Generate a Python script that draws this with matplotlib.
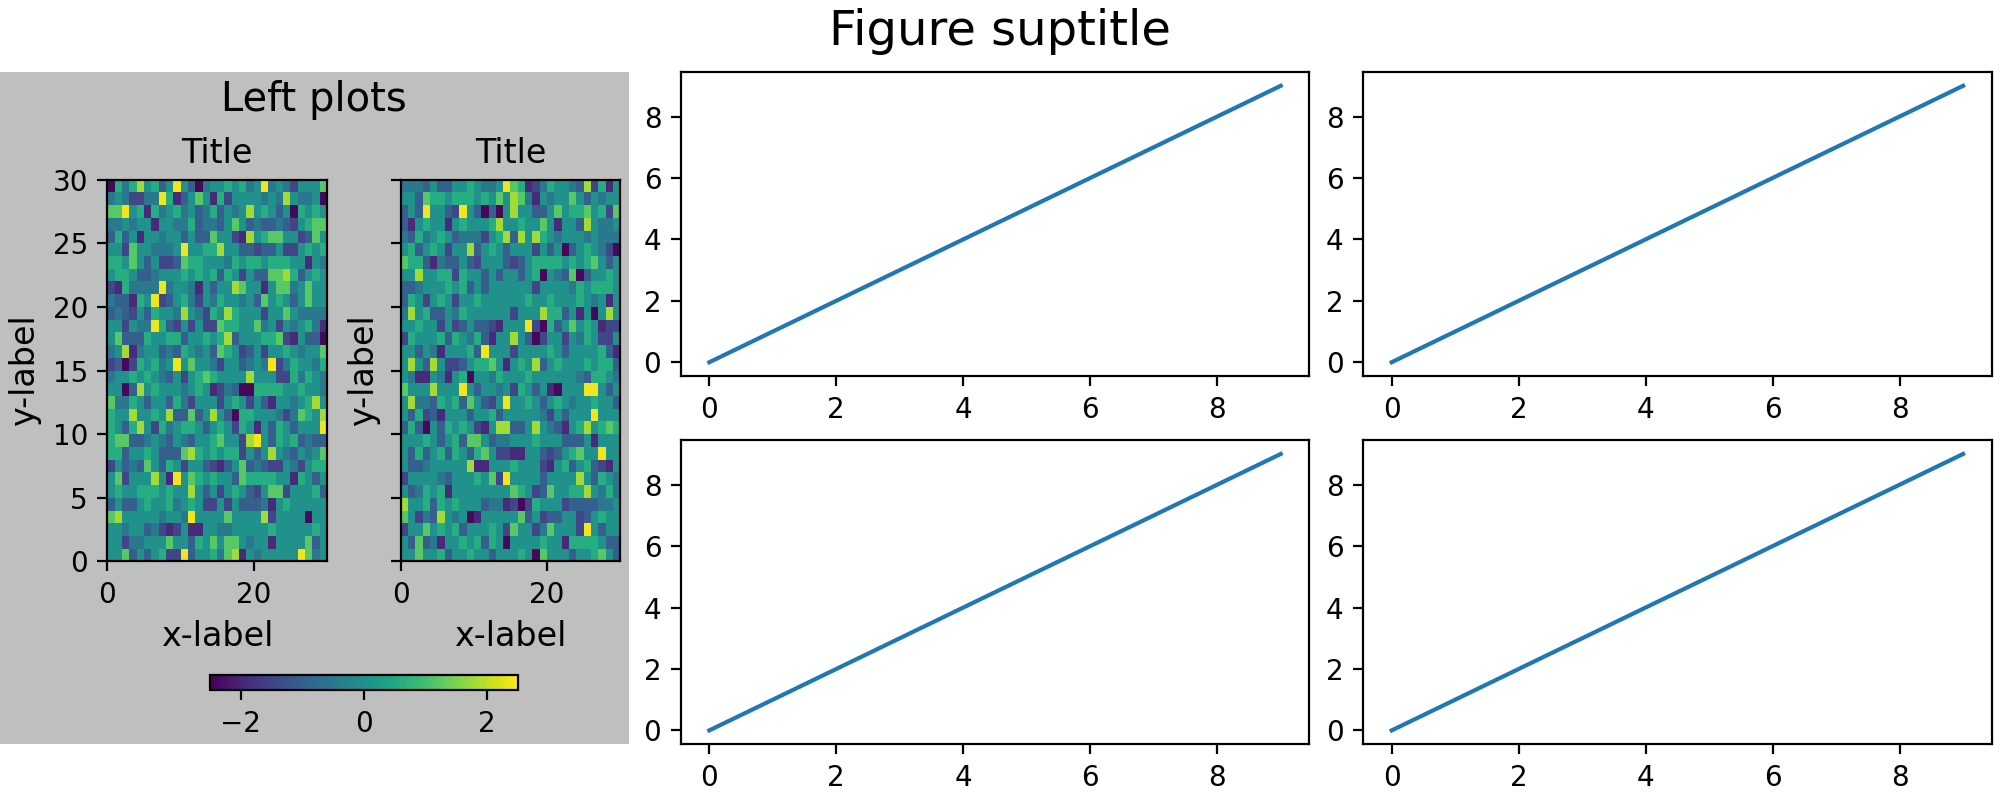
import numpy as np
import matplotlib
matplotlib.use("Agg")
import matplotlib.pyplot as plt

# Colour levels (code digit -> value)
LEVELS = [-2.4, -1.9, -1.45, -1.0, -0.5, 0.0, 0.6, 1.2, 1.8, 2.4]

# Left heatmap, rows listed top (y=29) to bottom (y=0), 30 columns each
heat_left_rows = [
    "0646856359 5304556564 5945425557",
    "4542244961 3575162555 5454854450",
    "7795616456 4534635458 5653506565",
    "4454551554 4634435753 4334325677",
    "3635155455 3533755218 5677552375",
    "5527554445 9556685533 2335225656",
    "6657535223 7665554656 6566655154",
    "5665334555 6565636525 3377863565",
    "2164444945 5415355875 5157745755",
    "4331659235 6425465545 3756535755",
    "3432536554 8542658655 5255754444",
    "5525449632 5252276655 7452545641",
    "5733365566 3556568355 5667215330",
    "4581455343 6545376523 5255654557",
    "2302656459 5755425534 5492465546",
    "4556565435 2567655558 5552264654",
    "5503856555 4565124300 6666556554",
    "7446535536 4255525652 5315545685",
    "6558556583 3735853066 5554247658",
    "6536852645 6653565265 1536535559",
    "6773345435 4355675528 9536563433",
    "6635565333 7865656625 3585435457",
    "2534375365 2553213573 4322542566",
    "5725558519 5765655376 6665516535",
    "5655666565 5853525653 2577255563",
    "3533565564 5652252533 3415655555",
    "7855555455 4955557555 5825555055",
    "5545534212 5115544555 5565555565",
    "5524455575 5365757754 5515555735",
    "5573535622 9355647815 4555559745",
]

# Right heatmap, rows listed top (y=29) to bottom (y=0)
heat_right_rows = [
    "4443533556 5445976124 6554382615",
    "5537665666 5657587415 4557535455",
    "3539553295 3030585533 5756675627",
    "3156551565 5568556557 5155385445",
    "4364565344 4256838586 5455545444",
    "5635652558 3565355525 3503565420",
    "7663143353 2555323566 6656567535",
    "5585566265 5353553560 5437035565",
    "3345556563 5355555525 5554656665",
    "3652565255 6555555655 6555654515",
    "4856335465 5555525558 6635150585",
    "5565525235 3321555920 6357565122",
    "2655563654 6315585302 5525465225",
    "5535415556 3955525555 6535555631",
    "5853852235 6675156583 5655565663",
    "5411541560 5546555655 5555436654",
    "7555855595 3554526535 1055599535",
    "5844365637 5325955653 5654556553",
    "5362315553 5563555554 2535559555",
    "3630536565 2158833585 4315685676",
    "5556535637 7534455565 5533351555",
    "5363563653 6752211553 2356755955",
    "5334555558 1155565552 1563563215",
    "2555543555 6572955553 5555853654",
    "5346561555 5555576523 7556685464",
    "8556365655 5344120265 5523333445",
    "7524385450 1555557352 3355235655",
    "2557565635 5565275524 7555295355",
    "5373415565 6365055556 5516666533",
    "5575563556 5535556507 5553556753",
]

line_x = [0, 1, 2, 3, 4, 5, 6, 7, 8, 9]
line_y = [0, 1, 2, 3, 4, 5, 6, 7, 8, 9]


def decode(rows):
    arr = np.array([[LEVELS[int(c)] for c in r.replace(" ", "")] for r in rows])
    return arr[::-1]  # first row of the grid is y=0


def example_plot(ax, data, fontsize=12):
    pc = ax.pcolormesh(data, vmin=-2.5, vmax=2.5)
    ax.set_xlabel('x-label', fontsize=fontsize)
    ax.set_ylabel('y-label', fontsize=fontsize)
    ax.set_title('Title', fontsize=fontsize)
    return pc


fig, axs = plt.subplots(2, 3, layout='constrained', figsize=(10, 4))
gridspec = axs[0, 0].get_subplotspec().get_gridspec()

for a in axs[:, 0]:
    a.remove()

for a in axs[:, 1:].flat:
    a.plot(line_x, line_y)

subfig = fig.add_subfigure(gridspec[:, 0])
axsLeft = subfig.subplots(1, 2, sharey=True)
subfig.set_facecolor('0.75')
pc = None
for ax, rows in zip(axsLeft, [heat_left_rows, heat_right_rows]):
    pc = example_plot(ax, decode(rows))
subfig.suptitle('Left plots', fontsize='x-large')
subfig.colorbar(pc, shrink=0.6, ax=axsLeft, location='bottom')

fig.suptitle('Figure suptitle', fontsize='xx-large')

fig.savefig('out.png', dpi=200)
